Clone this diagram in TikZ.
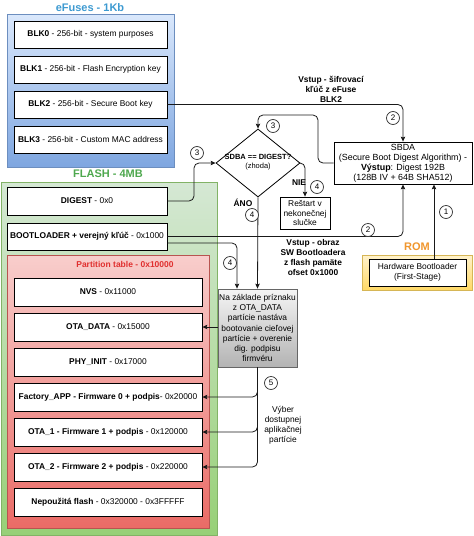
\documentclass[tikz,border=0pt]{standalone}
\usepackage{fontspec}
\setmainfont{Liberation Sans}
\usetikzlibrary{shapes.geometric,arrows.meta}
\definecolor{efblue}{HTML}{3D9AD1}
\definecolor{flgreen}{HTML}{4EA84E}
\definecolor{romorange}{HTML}{F0962D}
\definecolor{ptred}{HTML}{E0302F}
\definecolor{bluetop}{HTML}{DAE8FC}
\definecolor{bluebot}{HTML}{7EA6E0}
\definecolor{bluestroke}{HTML}{6C8EBF}
\definecolor{greentop}{HTML}{D5E8D4}
\definecolor{greenbot}{HTML}{97D077}
\definecolor{greenstroke}{HTML}{82B366}
\definecolor{redtop}{HTML}{F8CECC}
\definecolor{redbot}{HTML}{EA6B66}
\definecolor{redstroke}{HTML}{B85450}
\definecolor{yeltop}{HTML}{FFF2CC}
\definecolor{yelbot}{HTML}{FFD966}
\definecolor{yelstroke}{HTML}{D6B656}
\definecolor{graytop}{HTML}{F5F5F5}
\definecolor{graybot}{HTML}{B3B3B3}
\definecolor{graystroke}{HTML}{666666}
\begin{document}
\begin{tikzpicture}[x=1pt,y=-1pt,
  txt/.style={font=\fontsize{8.4}{9.9}\selectfont},
  wbox/.style={draw=black,line width=0.8pt,fill=white,inner sep=1pt,align=center,txt},
  cont/.style={line width=0.8pt,inner sep=0pt},
  circ/.style={draw=black!80,line width=0.7pt,fill=white,circle,inner sep=0pt,minimum size=13pt,font=\fontsize{8}{9}\selectfont},
  lbl/.style={align=center,txt,inner sep=0pt},
  ttl/.style={font=\fontsize{11}{12}\selectfont\bfseries,inner sep=0pt},
  arr/.style={draw=black!90,line width=0.8pt,rounded corners=5pt,-{Stealth[length=5pt,width=4.5pt,inset=1pt]}},
  ln/.style={draw=black!90,line width=0.8pt,rounded corners=5pt}]
\useasboundingbox (0,0) rectangle (474,536);

% containers
\node[cont,draw=bluestroke,top color=bluetop,bottom color=bluebot,minimum width=167pt,minimum height=153pt] (efuse) at (90.5,90.5) {};
\node[ttl,text=efblue] (eftitle) at (90,8) {eFuses - 1Kb};
\node[cont,draw=greenstroke,top color=greentop,bottom color=greenbot,minimum width=216pt,minimum height=353pt] (flash) at (109,358.5) {};
\node[ttl,text=flgreen] (fltitle) at (108,174) {FLASH - 4MB};
\node[cont,draw=redstroke,top color=redtop,bottom color=redbot,minimum width=202pt,minimum height=273pt] (part) at (108,391.5) {};
\node[inner sep=0pt,text=ptred,font=\fontsize{8.5}{10}\selectfont\bfseries] (pttitle) at (125,264) {Partition table - 0x10000};
\node[cont,draw=yelstroke,top color=yeltop,bottom color=yelbot,minimum width=110pt,minimum height=35pt] (rom) at (417,272.5) {};
\node[ttl,text=romorange] (romtitle) at (417,247) {ROM};

% eFuse blocks
\node[wbox,minimum width=153pt,minimum height=27pt] (blk0) at (90.5,34.5) {\textbf{BLK0} - 256-bit - system purposes};
\node[wbox,minimum width=153pt,minimum height=27pt] (blk1) at (90.5,69.5) {\textbf{BLK1} - 256-bit - Flash Encryption key};
\node[wbox,minimum width=153pt,minimum height=27pt] (blk2) at (90.5,104.5) {\textbf{BLK2} - 256-bit - Secure Boot key};
\node[wbox,minimum width=153pt,minimum height=27pt] (blk3) at (90.5,139.5) {\textbf{BLK3} - 256-bit - Custom MAC address};

% flash blocks
\node[wbox,minimum width=160pt,minimum height=28pt] (digest) at (87,201) {\textbf{DIGEST} - 0x0};
\node[wbox,minimum width=160pt,minimum height=27pt] (boot) at (87,236.5) {\textbf{BOOTLOADER + verejný kľúč} - 0x1000};
\node[wbox,minimum width=188pt,minimum height=28pt] (nvs) at (108,292) {\textbf{NVS} - 0x11000};
\node[wbox,minimum width=188pt,minimum height=28pt] (otadata) at (108,327) {\textbf{OTA\_DATA} - 0x15000};
\node[wbox,minimum width=188pt,minimum height=28pt] (phy) at (108,362) {\textbf{PHY\_INIT} - 0x17000};
\node[wbox,minimum width=188pt,minimum height=28pt] (factory) at (108,397) {\textbf{Factory\_APP - Firmware 0 + podpis}- 0x20000};
\node[wbox,minimum width=188pt,minimum height=28pt] (ota1) at (108,432) {\textbf{OTA\_1 - Firmware 1 + podpis} - 0x120000};
\node[wbox,minimum width=188pt,minimum height=28pt] (ota2) at (108,467) {\textbf{OTA\_2 - Firmware 2 + podpis} - 0x220000};
\node[wbox,minimum width=188pt,minimum height=28pt] (unused) at (108,502) {\textbf{Nepoužitá flash} - 0x320000 - 0x3FFFFF};

% logic
\node[wbox,minimum width=138pt,minimum height=42pt,font=\fontsize{8.9}{10}\selectfont] (sbda) at (403,163) {SBDA\\(Secure Boot Digest Algorithm) -\\\textbf{Výstup}: Digest 192B\\(128B IV + 64B SHA512)};
\node[diamond,draw=black,line width=0.8pt,fill=white,minimum width=84pt,minimum height=68pt,inner sep=0pt] (dia) at (258,163) {};
\node[lbl,font=\fontsize{7.5}{9.5}\selectfont] (diatext) at (258,162) {\textbf{SDBA == DIGEST?}\\(zhoda)};
\node[wbox,minimum width=50pt,minimum height=32pt] (restart) at (305,213) {Reštart v\\nekonečnej\\slučke};
\node[wbox,draw=graystroke,top color=graytop,bottom color=graybot,minimum width=79pt,minimum height=78pt,font=\fontsize{8.4}{10.1}\selectfont] (gray) at (257.5,328) {Na základe príznaku\\z OTA\_DATA\\partície nastáva\\bootovanie cieľovej\\partície + overenie\\dig. podpisu\\firmvéru};
\node[wbox,minimum width=97pt,minimum height=27pt] (hw) at (417.5,272.5) {Hardware Bootloader\\(First-Stage)};

% connectors
\coordinate (loopc) at (318,115);
\coordinate (dj) at (194,163);
\path ([xshift=16.5pt]hw.north) coordinate (hwtop);
\draw[arr] (blk2.east) -| (sbda.north);
\draw[arr] (sbda.west) -| (loopc) -| (dia.north);
\draw[arr] (digest.east) -| (dj) -- (dia.west);
\draw[arr] (dia.east) -| (restart.north);
\draw[arr] (dia.south) -- (gray.north);
\draw[arr] (boot.east) -| (sbda.south);
\draw[arr] ([yshift=-6.5pt]boot.east) -| ([xshift=-20.5pt]gray.north);
\draw[arr] (hwtop) -- (hwtop |- sbda.south);
\draw[arr] (gray.west |- otadata.east) -- (otadata.east);
\draw[arr] (gray.south) |- (factory.east);
\draw[arr] (gray.south) |- (ota1.east);
\draw[arr] (gray.south) |- (ota2.east);

% labels
\node[lbl,font=\fontsize{8.4}{10.2}\selectfont\bfseries] (l1) at (331,89.5) {Vstup - šifrovací\\kľúč z eFuse\\BLK2};
\node[lbl,font=\fontsize{8.4}{9.8}\selectfont\bfseries] (l2) at (313,257.5) {Vstup - obraz\\SW Bootloadera\\z flash pamäte\\ofset 0x1000};
\node[lbl] (l3) at (283,425) {Výber\\dostupnej\\aplikačnej\\partície};
\node[lbl,font=\fontsize{8.4}{10}\selectfont\bfseries] (nie) at (299,183) {NIE};
\node[lbl,font=\fontsize{8.4}{10}\selectfont\bfseries] (ano) at (243,203) {ÁNO};

% step circles
\node[circ] (c2a) at (393,118) {2};
\node[circ] (c3a) at (273,126) {3};
\node[circ] (c3b) at (197,153) {3};
\node[circ] (c4a) at (317,187) {4};
\node[circ] (c4b) at (252,215) {4};
\node[circ] (c2b) at (368,230) {2};
\node[circ] (c4c) at (230,263) {4};
\node[circ] (c1) at (446,212) {1};
\node[circ] (c5) at (271,383) {5};
\end{tikzpicture}
\end{document}
